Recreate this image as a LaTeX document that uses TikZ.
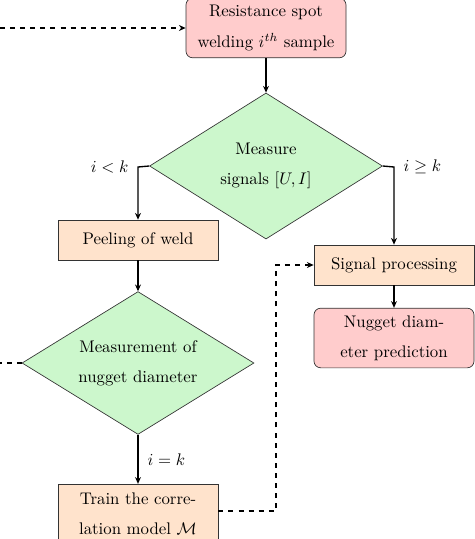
\documentclass[tikz,border=0pt]{standalone}
\usetikzlibrary{shapes.geometric,arrows.meta}
\definecolor{pinkfill}{HTML}{FFCCCC}
\definecolor{greenfill}{HTML}{CCF7CC}
\definecolor{peachfill}{HTML}{FFE3CC}
\tikzset{
  px/.style={x=0.595pt,y=-0.595pt},
  rbox/.style={draw=black!80, fill=pinkfill, rounded corners=4pt, minimum width=95.2pt, align=center, inner sep=0pt},
  pbox/.style={draw=black!80, fill=peachfill, minimum width=95.2pt, align=center, inner sep=0pt},
  dbox/.style={draw=black!80, fill=greenfill, shape=diamond, aspect=1.6, align=center, inner sep=0pt},
  flow/.style={draw, thick, -{Stealth[length=4pt,width=3.5pt]}},
  dflow/.style={draw, thick, dashed, -{Stealth[length=4pt,width=3.5pt]}},
  dline/.style={draw, thick, dashed},
}
\begin{document}
\begin{tikzpicture}[px]
\useasboundingbox (0,0) rectangle (474,539);
% nodes
\node[rbox, minimum height=35.5pt] (rsw) at (266,28) {Resistance spot\\[6pt]welding $i^{th}$ sample};
\node[dbox, minimum width=138.6pt, minimum height=86.9pt] (ms) at (266,166) {Measure\\[6pt]signals $[U,I]$};
\node[pbox, minimum height=23.8pt] (peel) at (138,240) {Peeling of weld};
\node[dbox, minimum width=138pt, minimum height=85pt] (mn) at (138,363) {Measurement of\\[6pt]nugget diameter};
\node[pbox, minimum height=35.5pt] (train) at (138,514) {Train the corre-\\[6pt]lation model $\mathcal{M}$};
\node[pbox, minimum height=23.8pt] (sig) at (394,265) {Signal processing};
\node[rbox, minimum height=35.5pt] (nug) at (394,338) {Nugget diam-\\[6pt]eter prediction};
% coordinates
\coordinate (lin) at (0,28);
\coordinate (lout) at (0,363);
\coordinate (ck) at (138,167);
\coordinate (cg) at (394,167);
\coordinate (d1) at (276,511);
\coordinate (d2) at (276,265);
% connectors
\path[dflow] (lin) -- (rsw.west);
\path[flow] (rsw.south) -- (ms.north);
\path[flow] (ms.west) -- (ck) node[left=2pt] {$i<k$} -- (peel.north);
\path[flow] (ms.east) -- (cg) node[right=2pt] {$i\geq k$} -- (sig.north);
\path[flow] (peel.south) -- (mn.north);
\path[flow] (mn.south) -- node[right=2pt] {$i=k$} (train.north);
\path[dline] (mn.west) -- (lout);
\path[dflow] (train.east |- d1) -- (d1) -- (d2) -- (sig.west);
\path[flow] (sig.south) -- (nug.north);
\end{tikzpicture}
\end{document}
